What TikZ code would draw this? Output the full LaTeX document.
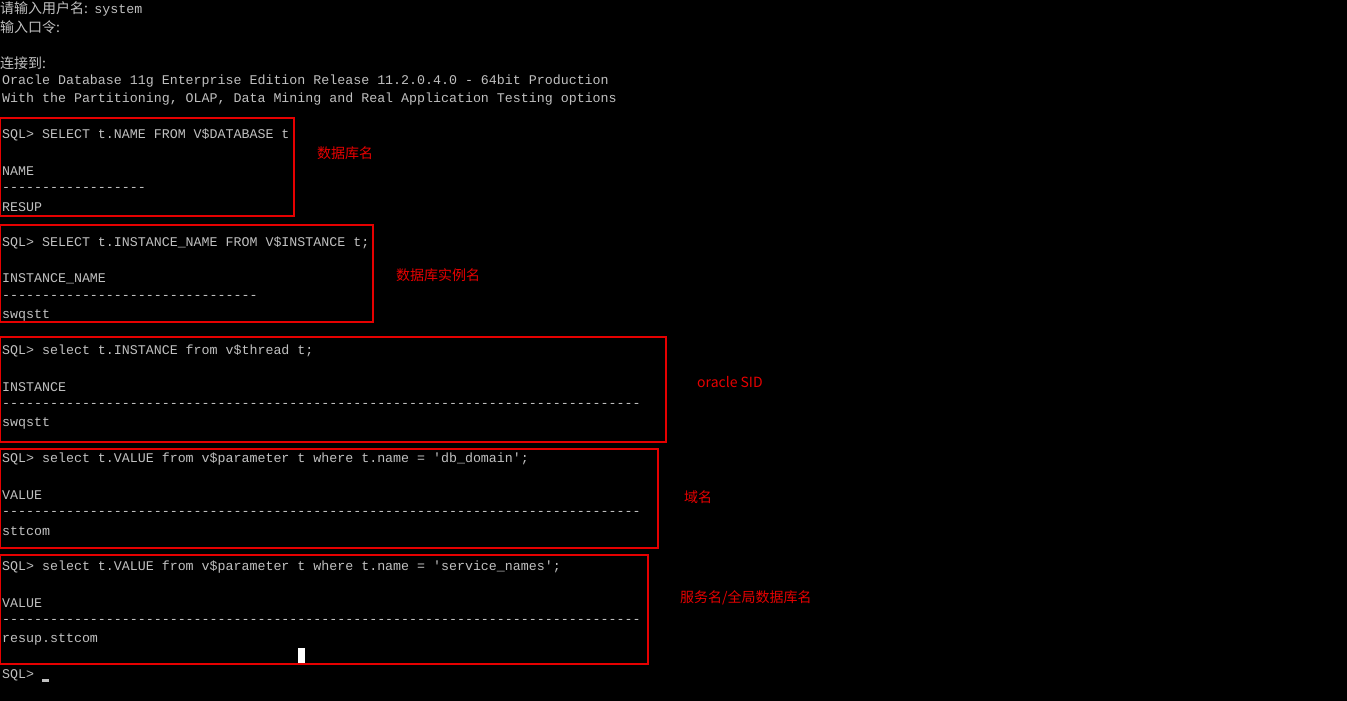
\documentclass[tikz,border=0pt]{standalone}
\usepackage{fontspec}
\setmonofont{Liberation Mono}
\newfontfamily\cjk{Noto Sans CJK SC}
\definecolor{term}{RGB}{192,192,192}
\definecolor{redbox}{RGB}{230,0,0}
\begin{document}
\begin{tikzpicture}[x=1pt,y=-1pt,
  tl/.style={anchor=west,inner sep=0pt,text=term,font=\fontsize{13.3}{14}\ttfamily},
  cl/.style={anchor=west,inner sep=0pt,text=term,font=\fontsize{14}{15}\cjk},
  lbl/.style={anchor=west,inner sep=0pt,text=redbox,font=\fontsize{14}{15}\cjk},
  rb/.style={draw=redbox,line width=1.5pt}]
\fill[black] (0,0) rectangle (1347,701);
\useasboundingbox (0,0) rectangle (1347,701);
\node[cl] (l1) at (0,9) {请输入用户名:\ \ \texttt{\fontsize{13.3}{14}\selectfont system}};
\node[cl] (l2) at (0,27) {输入口令:};
\node[cl] (l3) at (0,63) {连接到:};
\node[tl] (l4) at (2,81) {Oracle Database 11g Enterprise Edition Release 11.2.0.4.0 - 64bit Production};
\node[tl] (l5) at (2,99) {With the Partitioning, OLAP, Data Mining and Real Application Testing options};
% block 1
\node[tl] (a1) at (2,135) {SQL> SELECT t.NAME FROM V\$DATABASE t};
\node[tl] (a2) at (2,171) {NAME};
\node[tl] (a3) at (2,189) {------------------};
\node[tl] (a4) at (2,207) {RESUP};
\draw[rb] (0,118) rectangle (294,216);
\node[lbl] (la) at (317,153) {数据库名};
% block 2
\node[tl] (b1) at (2,243) {SQL> SELECT t.INSTANCE\_NAME FROM V\$INSTANCE t;};
\node[tl] (b2) at (2,279) {INSTANCE\_NAME};
\node[tl] (b3) at (2,297) {--------------------------------};
\node[tl] (b4) at (2,315) {swqstt};
\draw[rb] (0,225) rectangle (373,322);
\node[lbl] (lb) at (396,275) {数据库实例名};
% block 3
\node[tl] (c1) at (2,351) {SQL> select t.INSTANCE from v\$thread t;};
\node[tl] (c2) at (2,387) {INSTANCE};
\node[tl] (c3) at (2,405) {--------------------------------------------------------------------------------};
\node[tl] (c4) at (2,423) {swqstt};
\draw[rb] (0,337) rectangle (666,442);
\node[lbl] (lc) at (697,382) {oracle SID};
% block 4
\node[tl] (d1) at (2,459) {SQL> select t.VALUE from v\$parameter t where t.name = 'db\_domain';};
\node[tl] (d2) at (2,495) {VALUE};
\node[tl] (d3) at (2,513) {--------------------------------------------------------------------------------};
\node[tl] (d4) at (2,531) {sttcom};
\draw[rb] (0,449) rectangle (658,548);
\node[lbl] (ld) at (684,497) {域名};
% block 5
\node[tl] (e1) at (2,567) {SQL> select t.VALUE from v\$parameter t where t.name = 'service\_names';};
\node[tl] (e2) at (2,603) {VALUE};
\node[tl] (e3) at (2,621) {--------------------------------------------------------------------------------};
\node[tl] (e4) at (2,639) {resup.sttcom};
\draw[rb] (0,555) rectangle (648,664);
\node[lbl] (le) at (680,598) {服务名/全局数据库名};
\fill[white] (298,648) rectangle (305,663);
\node[tl] (f1) at (2,675) {SQL>};
\fill[term] (42,679) rectangle (49,682);
\end{tikzpicture}
\end{document}
